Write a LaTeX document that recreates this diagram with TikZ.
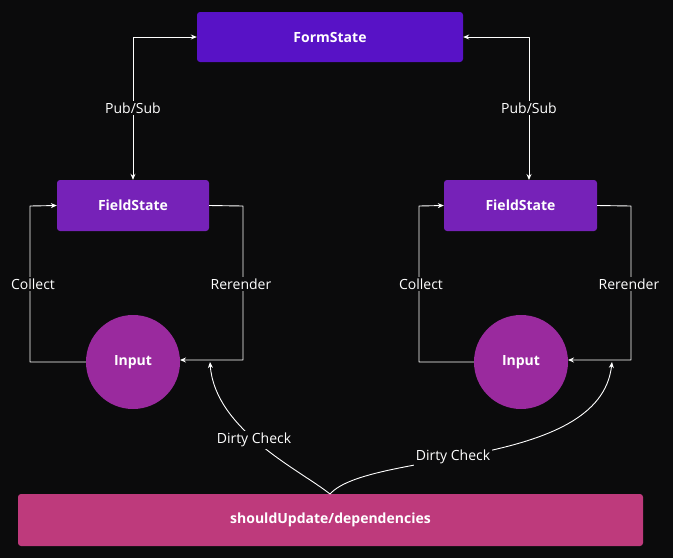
\documentclass[tikz,border=0pt]{standalone}
\usepackage{fontspec}
\setmainfont{Open Sans}
\usetikzlibrary{arrows.meta}
\definecolor{bg}{HTML}{0B0B0C}
\definecolor{cform}{HTML}{5812C6}
\definecolor{cfield}{HTML}{7622B8}
\definecolor{cinput}{HTML}{9A2A9E}
\definecolor{cbar}{HTML}{BE3A7C}
\begin{document}
\begin{tikzpicture}[x=1pt,y=-1pt,
  box/.style={rectangle,rounded corners=3pt,text=white,font=\bfseries\fontsize{14}{16}\selectfont,inner sep=0pt},
  circ/.style={circle,fill=cinput,text=white,font=\bfseries\fontsize{14}{16}\selectfont,minimum size=94pt,inner sep=0pt},
  lab/.style={fill=bg,text=white,font=\fontsize{14}{16}\selectfont,inner sep=2pt},
  conn/.style={draw=white,line width=0.9pt,line join=round,-{Stealth[length=6pt,width=5pt]}},
  both/.style={draw=white,line width=0.9pt,line join=round,{Stealth[length=6pt,width=5pt]}-{Stealth[length=6pt,width=5pt]}}]
\fill[bg] (0,0) rectangle (673,558);
\useasboundingbox (0,0) rectangle (673,558);
\node[box,fill=cform,minimum width=266pt,minimum height=50pt] (form) at (330,37) {FormState};
\node[box,fill=cfield,minimum width=152pt,minimum height=51pt] (f1) at (133,205.5) {FieldState};
\node[box,fill=cfield,minimum width=153pt,minimum height=51pt] (f2) at (520.5,205.5) {FieldState};
\node[circ] (i1) at (133,362) {Input};
\node[circ] (i2) at (521,362) {Input};
\node[box,fill=cbar,minimum width=625pt,minimum height=52pt] (bar) at (330.5,520) {shouldUpdate/dependencies};
\coordinate (b) at (330,494);
\draw[both] (form.west) -- (133,37) -- (f1.north);
\draw[both] (form.east) -- (529,37) -- (529,180);
\node[lab] at (133,108) {Pub/Sub};
\node[lab] at (529,108) {Pub/Sub};
\draw[conn] (i1.west) -- (30,362) -- (30,206) -- (f1.west);
\draw[conn] (f1.east) -- (243,206) -- (243,360) -- (180,360);
\node[lab] at (33,284) {Collect};
\node[lab] at (241,284) {Rerender};
\draw[conn] (i2.west) -- (419,362) -- (419,206) -- (f2.west);
\draw[conn] (f2.east) -- (631,206) -- (631,360) -- (568,360);
\node[lab] at (421,284) {Collect};
\node[lab] at (629,284) {Rerender};
\draw[conn] (b) .. controls (300,470) and (215,430) .. (210,362);
\draw[conn] (b) .. controls (370,450) and (600,470) .. (612,362);
\node[lab] at (254,440) {Dirty Check};
\node[lab] at (453,457) {Dirty Check};
\end{tikzpicture}
\end{document}
